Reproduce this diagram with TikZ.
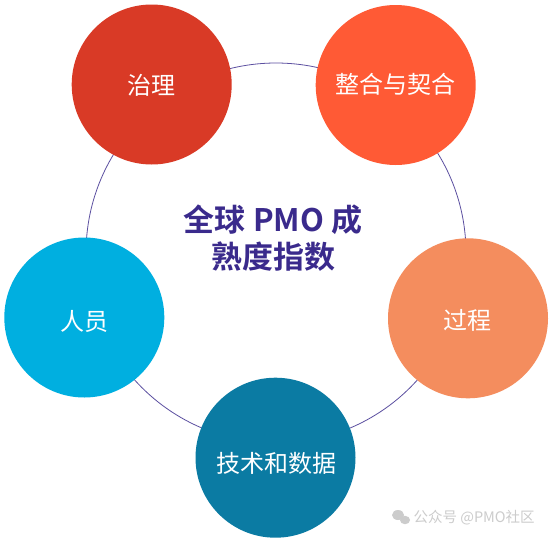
\documentclass[tikz,border=0pt]{standalone}
\usepackage{fontspec}
\newfontfamily\cjk{Noto Sans CJK SC}
\newfontfamily\cjkbold{Noto Sans CJK SC}[BoldFont={* Bold}]
\definecolor{ringc}{HTML}{5B4FA0}
\definecolor{cgov}{HTML}{D93A26}
\definecolor{cint}{HTML}{FF5A35}
\definecolor{cproc}{HTML}{F48D5E}
\definecolor{cpeople}{HTML}{00AFE0}
\definecolor{ctech}{HTML}{0B7BA3}
\definecolor{titlec}{HTML}{3A2A8C}
\definecolor{wmark}{HTML}{CCCCCC}
\tikzset{
  pillar/.style={circle, minimum size=160pt, inner sep=0pt, draw=none},
  pillartext/.style={text=white, inner sep=0pt, font=\cjk\fontsize{24}{27}\selectfont},
}
\begin{document}
\begin{tikzpicture}[x=1pt,y=-1pt]
\useasboundingbox (0,0) rectangle (554,541);
\clip (0,0) rectangle (554,541);
\fill[white] (0,0) rectangle (554,541);
\coordinate (ctr) at (276,253);
\draw[ringc, line width=0.8pt] (ctr) circle[radius=190pt];
\node[pillar, fill=cgov]    (gov)    at (151.7,84.5)  {};
\node[pillar, fill=cint]    (int)    at (395.7,85)    {};
\node[pillar, fill=cpeople] (people) at (84.3,317.5)  {};
\node[pillar, fill=cproc]   (proc)   at (468,318.3)   {};
\node[pillar, fill=ctech]   (tech)   at (275.5,457.7) {};
\node[pillartext] (govt)    at (151.7,85.5)  {治理};
\node[pillartext] (intt)    at (395.7,84)    {整合与契合};
\node[pillartext] (peoplet) at (84.5,321)    {人员};
\node[pillartext] (proct)   at (467.5,320.5) {过程};
\node[pillartext] (techt)   at (276,463)     {技术和数据};
\node[text=titlec, font=\cjkbold\bfseries\fontsize{31}{37}\selectfont, align=center]
  (title) at (273,238) {全球 PMO 成\\熟度指数};
\node[text=wmark, font=\cjk\fontsize{14.5}{16}\selectfont, anchor=west] (wm) at (410,518) {公众号 @PMO社区};
\fill[wmark] (398,515) ellipse[x radius=6pt, y radius=5pt];
\fill[wmark] (405,520) ellipse[x radius=5pt, y radius=4.2pt];
\end{tikzpicture}
\end{document}
